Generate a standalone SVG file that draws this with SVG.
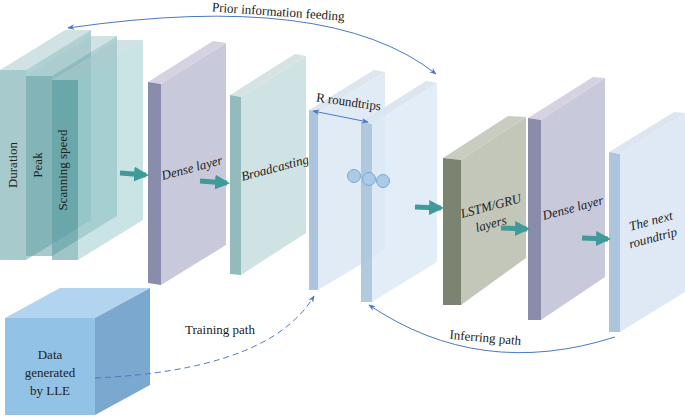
<svg xmlns="http://www.w3.org/2000/svg" width="685" height="419" viewBox="0 0 685 419">
<defs>
<style>
.c{fill:none;stroke:#4a78c8;stroke-width:1}
.ar{stroke:#3f9a9a;stroke-width:5;fill:none}
text{font-family:"Liberation Serif","DejaVu Serif",serif;font-size:13px;fill:#222}
</style>
<marker id="m" viewBox="0 0 10 10" refX="9" refY="5" markerWidth="7" markerHeight="7" orient="auto-start-reverse" markerUnits="userSpaceOnUse"><path d="M0,1 L10,5 L0,9 L3,5z" fill="#4a78c8"/></marker>
<marker id="t" viewBox="0 0 10 10" refX="8" refY="5" markerWidth="3" markerHeight="3" orient="auto"><path d="M0,0 L10,5 L0,10z" fill="#3f9a9a"/></marker>
</defs>
<g id="input">
<g fill="#6fabae" fill-opacity="0.55">
<path d="M0,70 L65,30 L91,30 L26,70z" fill="#a9cbcc"/><path d="M26,70 L91,30 L91,220 L26,260z"/><path d="M0,70 L26,70 L26,260 L0,260z" fill="#5e9fa3"/>
<path d="M26,76 L91,36 L117,36 L52,76z" fill="#a9cbcc"/><path d="M52,76 L117,36 L117,216 L52,256z"/><path d="M26,76 L52,76 L52,256 L26,256z" fill="#5e9fa3"/>
<path d="M52,80 L117,40 L143,40 L78,80z" fill="#a9cbcc"/><path d="M78,80 L143,40 L143,220 L78,260z" fill="#9fcdd0"/><path d="M52,80 L78,80 L78,260 L52,260z" fill="#4f9599"/>
</g>
<text transform="translate(17,165) rotate(-90)" text-anchor="middle">Duration</text>
<text transform="translate(42,165) rotate(-90)" text-anchor="middle">Peak</text>
<text transform="translate(67,170) rotate(-90)" text-anchor="middle">Scanning speed</text>
</g>
<g id="dense1">
<path d="M148,82 L213,41 L226,43 L161,84z" fill="#d6d2e2"/>
<path d="M161,84 L226,43 L226,245 L161,285z" fill="#c8cadb"/>
<path d="M148,82 L161,84 L161,285 L148,283z" fill="#8a8cab"/>
<text font-style="italic" transform="translate(193,172) rotate(-15)" text-anchor="middle">Dense layer</text>
</g>
<g id="broadcast">
<path d="M230,95 L295,54 L306,56 L241,97z" fill="#d7e3e3"/>
<path d="M241,97 L306,56 L306,233 L241,275z" fill="#cfe3e4"/>
<path d="M230,95 L241,97 L241,275 L230,274z" fill="#93bbbd"/>
<text font-style="italic" transform="translate(276,172) rotate(-15)" text-anchor="middle">Broadcasting</text>
</g>
<g id="rt1">
<path d="M309,110 L374,70 L385,72 L318,112z" fill="#dde5ef"/>
<path d="M318,112 L385,72 L385,250 L318,290z" fill="#dce8f5" fill-opacity="0.85"/>
<path d="M309,110 L318,112 L318,290 L309,290z" fill="#adc5dc"/>
</g>
<g id="rt2">
<path d="M361,122 L426,81 L437,83 L372,124z" fill="#dde5ef"/>
<path d="M372,124 L437,83 L437,262 L372,302z" fill="#dce8f5" fill-opacity="0.8"/>
<path d="M361,122 L372,124 L372,302 L361,302z" fill="#a8c4dc" fill-opacity="0.9"/>
</g>
<g id="dots" fill="#a9cbe8" stroke="#7ca8cf">
<circle cx="354" cy="176" r="6.5"/><circle cx="369" cy="179" r="6.5"/><circle cx="383" cy="181" r="6.5"/>
</g>
<g id="lstm">
<path d="M443,158 L508,116 L526,117 L461,160z" fill="#c9ccc0"/>
<path d="M461,160 L526,117 L526,258 L461,305z" fill="#c3c7ba"/>
<path d="M443,158 L461,160 L461,305 L443,305z" fill="#7a8470"/>
<text font-style="italic" transform="translate(492,210) rotate(-15)" text-anchor="middle">LSTM/GRU</text>
<text font-style="italic" transform="translate(492,228) rotate(-15)" text-anchor="middle">layers</text>
</g>
<g id="dense2">
<path d="M528,118 L593,77 L605,78 L541,120z" fill="#d6d2e2"/>
<path d="M541,120 L605,78 L605,277 L541,320z" fill="#c8cadb"/>
<path d="M528,118 L541,120 L541,320 L528,320z" fill="#8a8cab"/>
<text font-style="italic" transform="translate(574,212) rotate(-15)" text-anchor="middle">Dense layer</text>
</g>
<g id="next">
<path d="M609,152 L674,112 L685,113 L620,154z" fill="#dde5ef"/>
<path d="M620,154 L685,113 L685,292 L620,332z" fill="#dfe9f6"/>
<path d="M609,152 L620,154 L620,332 L609,332z" fill="#adc5dc"/>
<text font-style="italic" transform="translate(652,225) rotate(-15)" text-anchor="middle">The next</text>
<text font-style="italic" transform="translate(654,242) rotate(-15)" text-anchor="middle">roundtrip</text>
</g>
<g id="data">
<path d="M5,318 L60,288 L150,288 L95,318z" fill="#b3d4ef"/>
<path d="M95,318 L150,288 L150,385 L95,415z" fill="#7ba8cf"/>
<path d="M5,318 L95,318 L95,415 L5,415z" fill="#92c2e6"/>
<text x="50" y="359" text-anchor="middle">Data</text>
<text x="50" y="377" text-anchor="middle">generated</text>
<text x="50" y="395" text-anchor="middle">by LLE</text>
</g>
<g id="connectors">
<path class="c" d="M436,74 Q330,-10 68,28" marker-start="url(#m)" marker-end="url(#m)"/>
<path class="c" d="M313,111 L368,122" marker-start="url(#m)" marker-end="url(#m)"/>
<path class="c" d="M95,378 Q270,370 314,296" stroke-dasharray="6,4" marker-end="url(#m)"/>
<path class="c" d="M615,337 Q480,380 369,305" marker-end="url(#m)"/>
<line class="ar" x1="120" y1="173" x2="146" y2="175" marker-end="url(#t)"/>
<line class="ar" x1="200" y1="181" x2="227" y2="183" marker-end="url(#t)"/>
<line class="ar" x1="415" y1="207" x2="441" y2="208" marker-end="url(#t)"/>
<line class="ar" x1="501" y1="228" x2="527" y2="229" marker-end="url(#t)"/>
<line class="ar" x1="582" y1="238" x2="608" y2="239" marker-end="url(#t)"/>
</g>
<text transform="translate(278,16) rotate(4)" text-anchor="middle">Prior information feeding</text>
<text transform="translate(348,106) rotate(8)" text-anchor="middle">R roundtrips</text>
<text x="220" y="334" text-anchor="middle">Training path</text>
<text transform="translate(485,342) rotate(5)" text-anchor="middle">Inferring path</text>
</svg>
